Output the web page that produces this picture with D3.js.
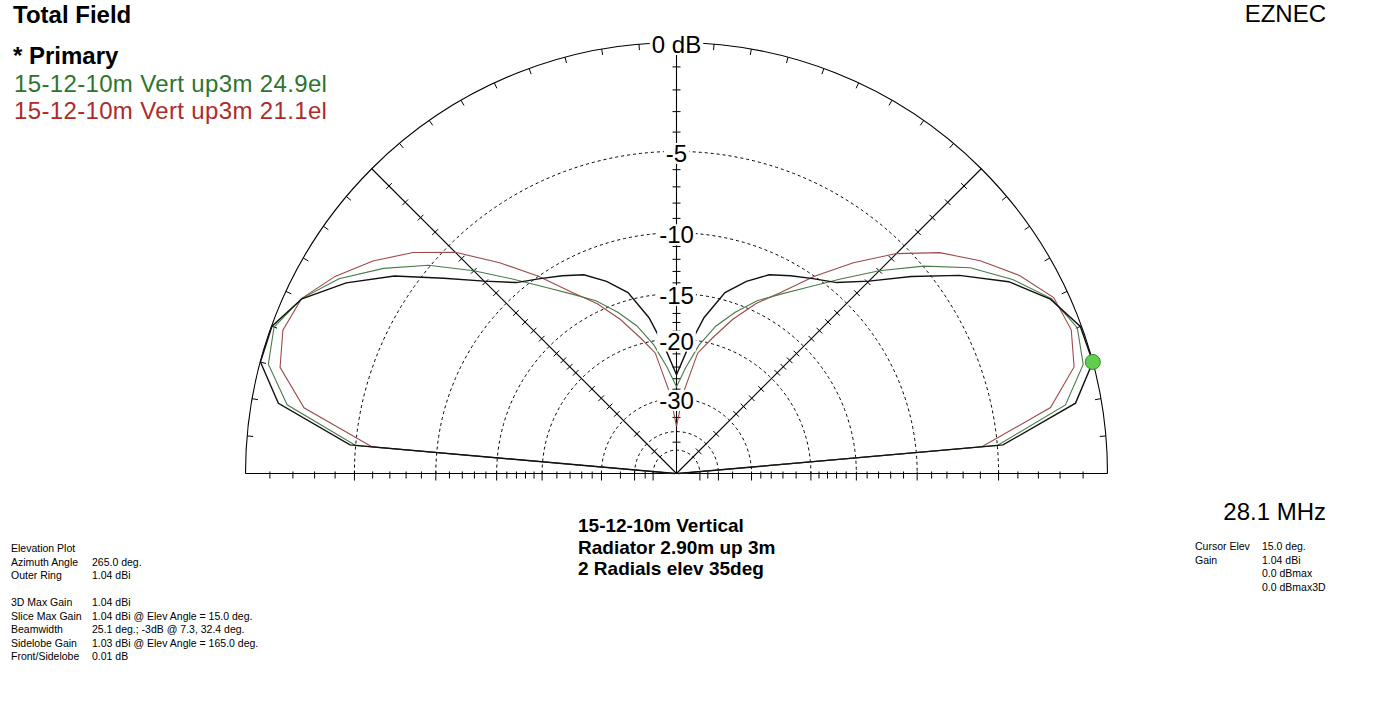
<!DOCTYPE html>
<html><head><meta charset="utf-8">
<script src="https://cdn.jsdelivr.net/npm/d3@7"></script>
<style>
html,body{margin:0;padding:0;background:#fff;}
svg{display:block;font-family:"Liberation Sans",Arial,sans-serif;}
</style></head><body>
<svg id="chart" width="1380" height="728"></svg>
<script>
// ---------------- data ----------------
const elevAngles = d3.range(0, 181, 5); // 0..180 deg, 5 deg step
const primaryDb = [-99, -4.7, -1.06, 0, -0.05, -0.75, -2.0, -3.8, -5.85, -7.9, -9.4, -10.2, -10.9, -11.6, -12.8, -14.3, -17.2, -21.3, -25.3,
  -21.3, -17.2, -14.3, -12.8, -11.6, -10.9, -10.2, -9.4, -7.9, -6.0, -3.85, -2.1, -0.72, -0.02, -0.01, -1.1, -4.7, -99];
const green249Db = [-99, -5.0, -1.5, -0.4, -0.18, -0.7, -1.8, -3.15, -4.97, -7.0, -9.1, -11.0, -12.6, -14.0, -15.8, -17.8, -20.5, -24.0, -27.5,
  -24.0, -20.5, -17.8, -15.8, -14.0, -12.6, -11.0, -9.1, -7.0, -4.9, -3.2, -1.73, -0.7, -0.11, -0.34, -1.48, -5.0, -99];
const red211Db = [-99, -5.85, -2.17, -0.79, -0.44, -0.6, -1.45, -2.58, -3.89, -5.6, -7.7, -10.0, -12.4, -14.3, -16.6, -19.2, -21.6, -28.5, -38.0,
  -28.5, -21.6, -19.2, -16.6, -14.3, -12.4, -10.0, -7.7, -5.5, -3.88, -2.59, -1.53, -0.7, -0.49, -0.84, -2.24, -5.91, -99];

const ringDb = [-5, -10, -15, -20, -30, -40, -50];
const ringLabels = ["0 dB", "-5", "-10", "-15", "-20", "-30"];
const ringLabelDb = [0, -5, -10, -15, -20, -30];
const minorTickDb = [-1, -2, -3, -4, -6, -7, -8, -9, -11, -12, -13, -14, -16, -17, -18, -19, -22, -24, -26, -28, -35, -45];
const spokeAngles = [0, 45, 90, 135, 180];
const rimTickAngles = d3.range(5, 180, 5).filter(a => a % 45 !== 0);

const seriesNames = ["15-12-10m Vert up3m 24.9el", "15-12-10m Vert up3m 21.1el"];
const centerLines = ["15-12-10m Vertical", "Radiator 2.90m up 3m", "2 Radials elev 35deg"];
const leftLabels = ["Elevation Plot", "Azimuth Angle", "Outer Ring", "", "3D Max Gain", "Slice Max Gain", "Beamwidth", "Sidelobe Gain", "Front/Sidelobe"];
const leftValues = ["", "265.0 deg.", "1.04 dBi", "", "1.04 dBi", "1.04 dBi @ Elev Angle = 15.0 deg.", "25.1 deg.; -3dB @ 7.3, 32.4 deg.", "1.03 dBi @ Elev Angle = 165.0 deg.", "0.01 dB"];
const rightLabels = ["Cursor Elev", "Gain", "", ""];
const rightValues = ["15.0 deg.", "1.04 dBi", "0.0 dBmax", "0.0 dBmax3D"];
const cursorElev = 15, cursorDb = 0;

// ---------------- layout ----------------
const svg = d3.select("#chart");
const cx = 676.5, cy = 473.5, R = 431;
// ARRL log scale: 0.89 per 2 dB
const logR = d3.scaleLinear().domain([0, -2]).range([Math.log(R), Math.log(R * 0.89)]);
const rScale = db => Math.exp(logR(db));
const aScale = d3.scaleLinear().domain([0, 180]).range([Math.PI / 2, -Math.PI / 2]);
const px = (elev, r) => cx + r * Math.sin(aScale(elev));
const py = (elev, r) => cy - r * Math.cos(aScale(elev));

const g = svg.append("g");

// dashed rings
ringDb.forEach(db => {
  const p = d3.path();
  p.arc(cx, cy, rScale(db), Math.PI, 2 * Math.PI);
  g.append("path").attr("d", p.toString()).attr("fill", "none")
    .attr("stroke", "#000").attr("stroke-width", 1).attr("stroke-dasharray", "3,3");
});

// outer ring
{
  const p = d3.path();
  p.arc(cx, cy, R, Math.PI, 2 * Math.PI);
  g.append("path").attr("d", p.toString()).attr("fill", "none").attr("stroke", "#000").attr("stroke-width", 1.1);
}
// rim ticks
rimTickAngles.forEach(a => {
  g.append("line").attr("x1", px(a, R)).attr("y1", py(a, R)).attr("x2", px(a, R - 6)).attr("y2", py(a, R - 6))
    .attr("stroke", "#000").attr("stroke-width", 1);
});
// spokes
spokeAngles.forEach(a => {
  g.append("line").attr("x1", cx).attr("y1", cy).attr("x2", px(a, R)).attr("y2", py(a, R))
    .attr("stroke", "#000").attr("stroke-width", 1.1);
});
// spoke ticks
spokeAngles.forEach(a => {
  const ux = Math.sin(aScale(a)), uy = -Math.cos(aScale(a));
  const nx = -uy, ny = ux; // perpendicular
  const isBase = (a === 0 || a === 180);
  const list = isBase ? minorTickDb.concat(ringDb) : minorTickDb;
  list.forEach(db => {
    const r = rScale(db);
    const x0 = cx + ux * r, y0 = cy + uy * r;
    if (isBase) {
      g.append("line").attr("x1", x0).attr("y1", y0 - 2).attr("x2", x0).attr("y2", y0 + (ringDb.includes(db) ? 7 : 5))
        .attr("stroke", "#000").attr("stroke-width", 1);
    } else {
      g.append("line").attr("x1", x0 - nx * 4).attr("y1", y0 - ny * 4).attr("x2", x0 + nx * 4).attr("y2", y0 + ny * 4)
        .attr("stroke", "#000").attr("stroke-width", 1);
    }
  });
});

// traces
const line = d3.lineRadial().angle(d => aScale(d[0])).radius(d => rScale(d[1]));
const traces = [
  {vals: red211Db, color: "#9c4a4a", w: 1.1},
  {vals: green249Db, color: "#4a7a4a", w: 1.1},
  {vals: primaryDb, color: "#111", w: 1.4}
];
traces.forEach(t => {
  g.append("path").attr("transform", `translate(${cx},${cy})`)
    .attr("d", line(elevAngles.map((a, i) => [a, t.vals[i]])))
    .attr("fill", "none").attr("stroke", t.color).attr("stroke-width", t.w).attr("stroke-linejoin", "miter");
});

// ring labels with white background
ringLabels.forEach((lab, i) => {
  const y = py(90, rScale(ringLabelDb[i])) + 2;
  const t = g.append("text").attr("x", cx).attr("y", y).attr("text-anchor", "middle")
    .attr("dominant-baseline", "central").attr("font-size", 24).attr("fill", "#000").text(lab);
  const bb = t.node().getBBox();
  g.insert("rect", () => t.node()).attr("x", bb.x - 2).attr("y", bb.y + 3).attr("width", bb.width + 4).attr("height", bb.height - 6).attr("fill", "#fff");
});

// cursor dot
g.append("circle").attr("cx", px(cursorElev, rScale(cursorDb))).attr("cy", py(cursorElev, rScale(cursorDb)))
  .attr("r", 7.5).attr("fill", "#62cf4c").attr("stroke", "#2f8a2f").attr("stroke-width", 1);

// titles & legend
svg.append("text").attr("x", 13).attr("y", 23).attr("font-size", 24).attr("font-weight", "bold").text("Total Field");
svg.append("text").attr("x", 13).attr("y", 64).attr("font-size", 24).attr("font-weight", "bold").text("* Primary");
const legendColors = ["#2e742e", "#ad2b2b"];
seriesNames.forEach((s, i) => {
  svg.append("text").attr("x", 14).attr("y", 92 + i * 26.5).attr("font-size", 24).attr("fill", legendColors[i])
    .attr("letter-spacing", 0.35).text(s);
});
svg.append("text").attr("x", 1326).attr("y", 22).attr("font-size", 24).attr("text-anchor", "end").text("EZNEC");
svg.append("text").attr("x", 1326).attr("y", 520).attr("font-size", 24).attr("text-anchor", "end").text("28.1 MHz");

centerLines.forEach((s, i) => {
  svg.append("text").attr("x", 578).attr("y", 532 + i * 21.5).attr("font-size", 19).attr("font-weight", "bold").text(s);
});

leftLabels.forEach((s, i) => {
  const y = 552 + i * 13.55;
  svg.append("text").attr("x", 11).attr("y", y).attr("font-size", 10.5).text(s);
  svg.append("text").attr("x", 92).attr("y", y).attr("font-size", 10.5).text(leftValues[i]);
});
rightLabels.forEach((s, i) => {
  const y = 550 + i * 13.5;
  svg.append("text").attr("x", 1195).attr("y", y).attr("font-size", 10.5).text(s);
  svg.append("text").attr("x", 1262).attr("y", y).attr("font-size", 10.5).text(rightValues[i]);
});
</script>
</body></html>
